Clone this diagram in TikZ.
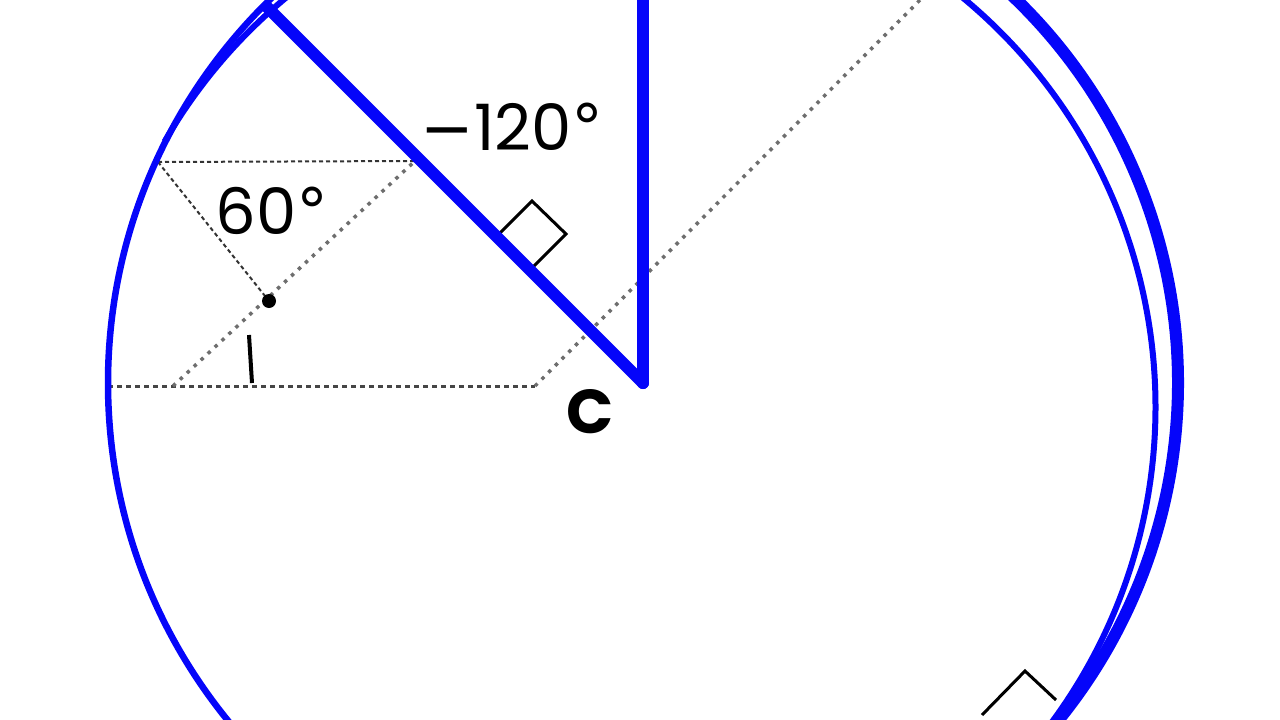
\documentclass[tikz,border=0pt]{standalone}
\usepackage{fontspec}
\setmainfont{Poppins}
\newfontfamily\djfont{DejaVu Sans}
\usetikzlibrary{calc}
\definecolor{myblue}{RGB}{5,5,250}
\definecolor{dgray}{RGB}{70,70,70}
\definecolor{lgray}{RGB}{110,110,110}
\begin{document}
\begin{tikzpicture}[x=1pt,y=-1pt,
  thinblue/.style={draw=myblue, line width=6.5pt},
  thickblue/.style={draw=myblue, line width=12pt, line cap=round},
  hdash/.style={draw=dgray, line width=3pt, dash pattern=on 5pt off 4pt},
  fdash/.style={draw=black!80, line width=2pt, dash pattern=on 4pt off 3pt},
  dotline/.style={draw=lgray, line width=3.5pt, dash pattern=on 3.5pt off 6pt},
  blackmark/.style={draw=black, line width=3pt},
  lbl/.style={font=\fontsize{64}{64}\selectfont, inner sep=0pt},
]
\useasboundingbox (0,0) rectangle (1280,720);
\fill[white] (0,0) rectangle (1280,720);

\coordinate (C) at (643,383);
\coordinate (O2) at (624.5,407);
\coordinate (D) at ($(C)+(225:535)$);
\coordinate (T) at (643,-20);

% dashed and dotted guides
\coordinate (H0) at (108,386);
\coordinate (H1) at (535,386);
\coordinate (Q0) at (173,386);
\coordinate (Q1) at (415,161);
\coordinate (P0) at (158,162);
\coordinate (R1) at (922,-2);
\coordinate (P) at (269,301);

\draw[hdash] (H0) -- (H1);
\draw[dotline] (H1) -- (R1);
\draw[dotline] (Q0) -- (Q1);
\draw[fdash] (P0) -- (Q1);
\draw[fdash] (P0) -- (P);
\fill[black] (P) circle[radius=7];

% tick
\coordinate (K0) at (249,335);
\coordinate (K1) at (252,383);
\draw[blackmark, line width=4pt] (K0) -- (K1);

% right angle markers
\coordinate (A) at (497,236);
\coordinate (A1) at (532,201);
\coordinate (B1) at (566,234);
\coordinate (B) at (531,269);
\draw[blackmark] (A) -- (A1) -- (B1) -- (B);
\coordinate (M0) at (982,715);
\coordinate (M1) at (1025,671);
\coordinate (M2) at (1056,700);
\draw[blackmark] (M0) -- (M1) -- (M2);

% circles and arcs
\draw[thinblue] (C) circle[radius=535];
\draw[thinblue, line width=6pt] ($(O2)+(210:531)$) arc[start angle=210, end angle=410, radius=531];
\draw[draw=myblue, line width=12pt] ($(C)+(250:535)$) arc[start angle=250, end angle=410, radius=535];

% radii
\draw[thickblue] (C) -- (T);
\draw[thickblue, line cap=butt] (C) -- (D);
\fill[myblue] (C) circle[radius=6];

% labels
\node[lbl] (l120) at (512,127) {{\djfont −}120{\djfont °}};
\node[lbl] (l60) at (272,211) {60{\djfont °}};
\node[lbl, font=\fontsize{62}{62}\selectfont\bfseries] (lC) at (590,412) {C};
\end{tikzpicture}
\end{document}
